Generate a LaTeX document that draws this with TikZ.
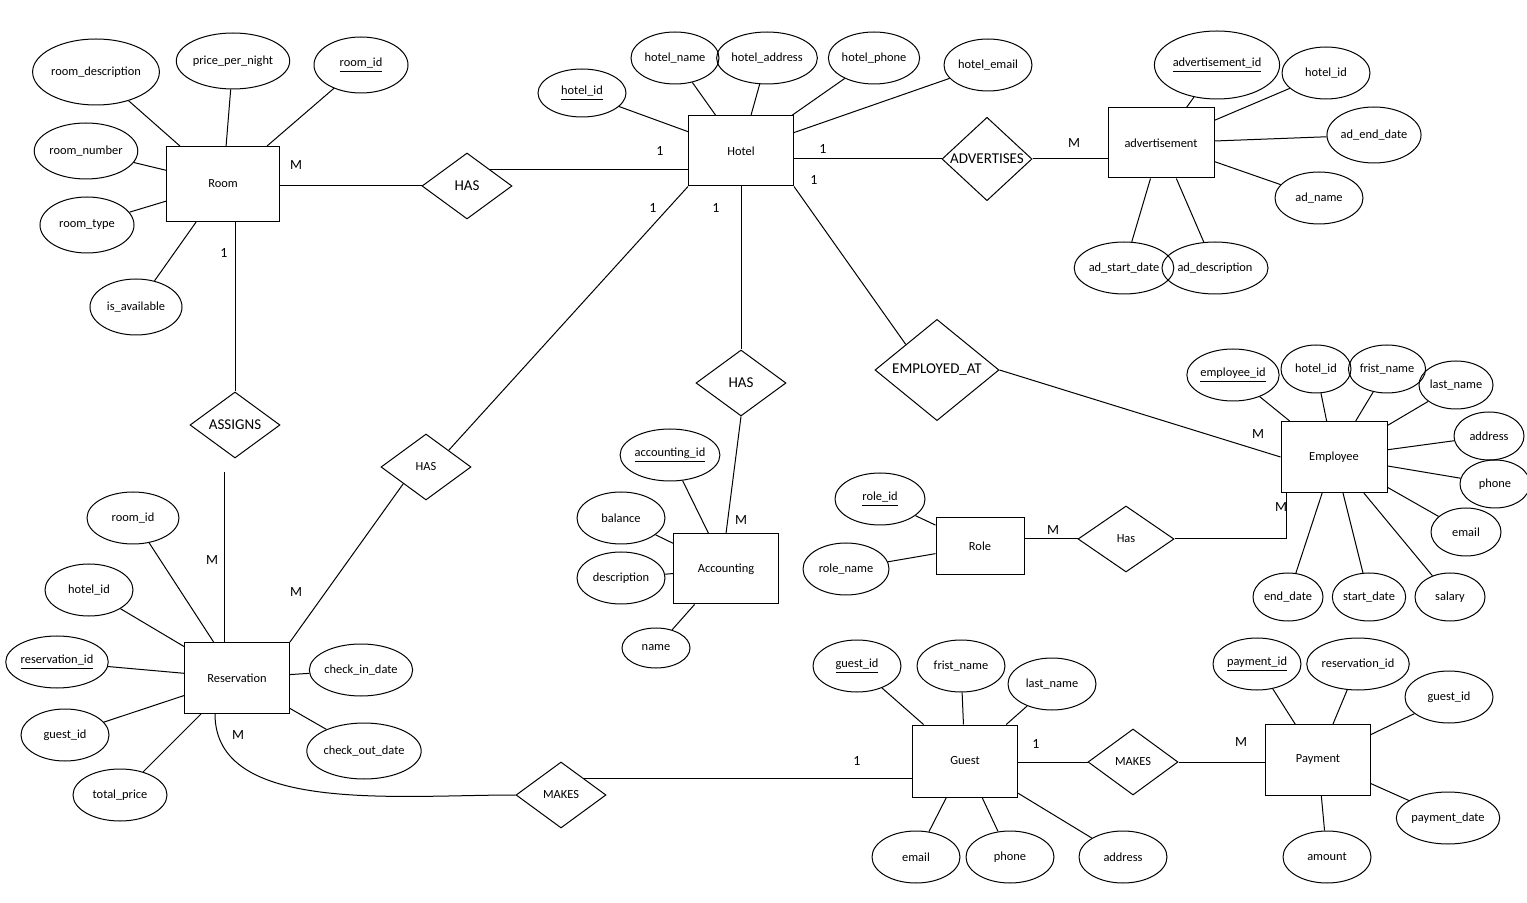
\documentclass[tikz,border=0pt]{standalone}
\usepackage{fontspec}
\setmainfont{Carlito}
\usetikzlibrary{shapes.geometric}
\begin{document}
\begin{tikzpicture}[x=0.5pt,y=-0.5pt,
  font=\fontsize{6.2}{7.5}\selectfont, line width=0.5pt,
  sz/.style 2 args={minimum width=#1*0.5pt, minimum height=#2*0.5pt},
  ent/.style={draw, rectangle, inner sep=0pt},
  rel/.style={draw, diamond, inner sep=0pt},
  att/.style={draw, ellipse, inner sep=0pt},
  lbl/.style={font=\fontsize{7}{8}\selectfont}]
\useasboundingbox (0,0) rectangle (1527,903);
% entities
\node[ent,sz={113}{75}] (room) at (223,184) {Room};
\node[ent,sz={105}{70}] (hotel) at (741,151) {Hotel};
\node[ent,sz={106}{70}] (adv) at (1161,143) {advertisement};
\node[ent,sz={106}{71}] (emp) at (1334,457) {Employee};
\node[ent,sz={88}{57}] (role) at (980,546) {Role};
\node[ent,sz={105}{70}] (acc) at (726,569) {Accounting};
\node[ent,sz={105}{71}] (res) at (237,678) {Reservation};
\node[ent,sz={105}{72}] (guest) at (965,761) {Guest};
\node[ent,sz={105}{71}] (pay) at (1318,760) {Payment};
% relationships
\node[rel,sz={90}{66},font=\fontsize{7.5}{9}\selectfont] (hasA) at (467,186) {HAS};
\node[rel,sz={90}{66},font=\fontsize{7.5}{9}\selectfont] (advs) at (987,159) {ADVERTISES};
\node[rel,sz={124}{92},font=\fontsize{7.5}{9}\selectfont] (empat) at (937,370) {EMPLOYED\_AT};
\node[rel,sz={90}{66},font=\fontsize{7.5}{9}\selectfont] (hasB) at (741,383) {HAS};
\node[rel,sz={90}{66},font=\fontsize{7.5}{9}\selectfont] (asg) at (235,425) {ASSIGNS};
\node[rel,sz={90}{66}] (hasC) at (426,467) {HAS};
\node[rel,sz={96}{66}] (hasD) at (1126,539) {Has};
\node[rel,sz={90}{66}] (mk1) at (561,795) {MAKES};
\node[rel,sz={90}{66}] (mk2) at (1133,762) {MAKES};
% attributes
\node[att,sz={112}{66}] (a1) at (96,72) {room\_description};
\node[att,sz={92}{56}] (a2) at (233,61) {price\_per\_night};
\node[att,sz={94}{56}] (a3) at (361,65) {\underline{room\_id}};
\node[att,sz={92}{56}] (a4) at (86,151) {room\_number};
\node[att,sz={94}{56}] (a5) at (87,225) {room\_type};
\node[att,sz={92}{56}] (a6) at (136,307) {is\_available};
\foreach \a in {a1,a2,a3,a4,a5,a6} \draw (\a) -- (room);
\node[att,sz={88}{48}] (b1) at (582,93) {\underline{hotel\_id}};
\node[att,sz={88}{52}] (b2) at (675,58) {hotel\_name};
\node[att,sz={88}{52}] (b3) at (767,58) {hotel\_address};
\node[att,sz={88}{52}] (b4) at (874,58) {hotel\_phone};
\node[att,sz={88}{52}] (b5) at (988,65) {hotel\_email};
\foreach \a in {b1,b2,b3,b4,b5} \draw (\a) -- (hotel);
\node[att,sz={112}{68}] (c1) at (1217,65) {\underline{advertisement\_id}};
\node[att,sz={88}{52}] (c2) at (1326,73) {hotel\_id};
\node[att,sz={92}{56}] (c3) at (1374,135) {ad\_end\_date};
\node[att,sz={88}{52}] (c4) at (1319,198) {ad\_name};
\node[att,sz={88}{52}] (c5) at (1124,268) {ad\_start\_date};
\node[att,sz={88}{52}] (c6) at (1215,268) {ad\_description};
\foreach \a in {c1,c2,c3,c4,c5,c6} \draw (\a) -- (adv);
\node[att,sz={88}{52}] (d1) at (1233,375) {\underline{employee\_id}};
\node[att,sz={70}{48}] (d2) at (1316,369) {hotel\_id};
\node[att,sz={70}{48}] (d3) at (1387,369) {frist\_name};
\node[att,sz={70}{48}] (d4) at (1456,385) {last\_name};
\node[att,sz={70}{48}] (d5) at (1489,436) {address};
\node[att,sz={70}{48}] (d6) at (1495,484) {phone};
\node[att,sz={70}{48}] (d7) at (1466,532) {email};
\node[att,sz={70}{48}] (d8) at (1450,597) {salary};
\node[att,sz={70}{48}] (d9) at (1369,597) {start\_date};
\node[att,sz={70}{48}] (d10) at (1288,597) {end\_date};
\foreach \a in {d1,d2,d3,d4,d5,d6,d7,d8,d9,d10} \draw (\a) -- (emp);
\node[att,sz={90}{52}] (e1) at (880,499) {\underline{role\_id}};
\node[att,sz={86}{52}] (e2) at (846,569) {role\_name};
\foreach \a in {e1,e2} \draw (\a) -- (role);
\node[att,sz={90}{52}] (f1) at (670,455) {\underline{accounting\_id}};
\node[att,sz={88}{52}] (f2) at (621,518) {balance};
\node[att,sz={88}{52}] (f3) at (621,578) {description};
\node[att,sz={68}{40}] (f4) at (656,648) {name};
\foreach \a in {f1,f2,f3,f4} \draw (\a) -- (acc);
\node[att,sz={92}{52}] (g1) at (133,518) {room\_id};
\node[att,sz={88}{52}] (g2) at (89,590) {hotel\_id};
\node[att,sz={88}{52}] (g3) at (57,662) {\underline{reservation\_id}};
\node[att,sz={88}{52}] (g4) at (65,735) {guest\_id};
\node[att,sz={94}{52}] (g5) at (120,795) {total\_price};
\node[att,sz={88}{52}] (g6) at (361,670) {check\_in\_date};
\node[att,sz={92}{56}] (g7) at (364,751) {check\_out\_date};
\foreach \a in {g1,g2,g3,g4,g5,g6,g7} \draw (\a) -- (res);
\node[att,sz={88}{52}] (h1) at (857,666) {\underline{guest\_id}};
\node[att,sz={88}{52}] (h2) at (961,666) {frist\_name};
\node[att,sz={88}{52}] (h3) at (1052,684) {last\_name};
\node[att,sz={88}{52}] (h4) at (916,857) {email};
\node[att,sz={88}{52}] (h5) at (1010,857) {phone};
\node[att,sz={88}{52}] (h6) at (1123,857) {address};
\foreach \a in {h1,h2,h3,h4,h5,h6} \draw (\a) -- (guest);
\node[att,sz={88}{52}] (p1) at (1257,664) {\underline{payment\_id}};
\node[att,sz={88}{52}] (p2) at (1358,664) {reservation\_id};
\node[att,sz={88}{52}] (p3) at (1449,697) {guest\_id};
\node[att,sz={88}{52}] (p4) at (1448,818) {payment\_date};
\node[att,sz={88}{52}] (p5) at (1327,857) {amount};
\foreach \a in {p1,p2,p3,p4,p5} \draw (\a) -- (pay);
% relationship lines
\draw (room.east |- hasA) -- (hasA.west);
\draw (hasA.north east) -- (hasA.north east -| hotel.west);
\draw (hotel.east |- advs) -- (advs.west);
\draw (advs.east) -- (advs.east -| adv.west);
\draw (hotel.south east) -- (empat.north west);
\draw (empat.east) -- (emp.west);
\draw (role.east |- hasD) -- (hasD.west);
\draw (hasD.east) -| ([xshift=3pt]emp.south west);
\draw (hotel.south) -- (hasB.north);
\draw (hasB.south) -- (acc.north);
\draw (room.south |- room.south) ++(6pt,0) coordinate (rs);
\draw (rs) -- (asg.north);
\draw (asg.south) ++(-5.5pt,-7pt) coordinate (as2);
\draw (as2) -- (as2 |- res.north);
\draw (hotel.south west) -- (hasC.north east);
\draw (hasC.south west) -- (res.north east);
\coordinate (rb) at ([xshift=-11pt]res.south);
\draw (rb) .. controls ++(0,-50pt) and ++(-60pt,0) .. (mk1.west);
\draw (mk1.north east) -- (mk1.north east -| guest.west);
\draw (guest.east |- mk2) -- (mk2.west);
\draw (mk2.east) -- (mk2.east -| pay.west);
% cardinalities
\foreach \t/\x/\y in {M/296/165, 1/660/151, 1/823/149, M/1074/143, 1/814/180, 1/653/208, 1/716/208, 1/224/253, M/1258/434, M/1281/507, M/741/520, M/1053/530, M/212/560, M/296/592, M/238/735, 1/857/761, 1/1036/744, M/1241/742}
  \node[lbl] at (\x,\y) {\t};
\end{tikzpicture}
\end{document}
